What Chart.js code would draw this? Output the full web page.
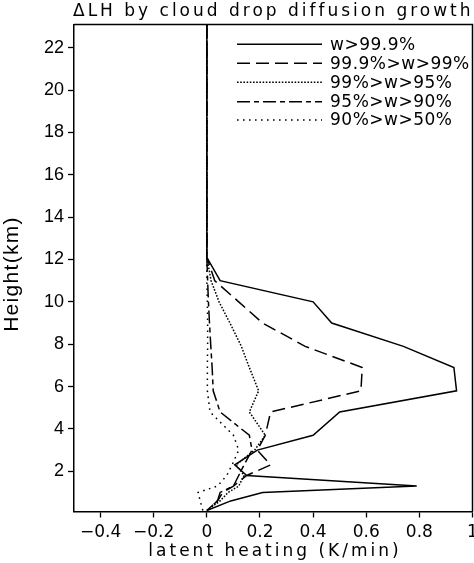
<!DOCTYPE html>
<html><head><meta charset="utf-8">
<script src="https://cdn.jsdelivr.net/npm/chart.js@4"></script>
<style>html,body{margin:0;padding:0;background:#fff;}#wrap{width:474px;height:563px;}</style>
</head><body><div id="wrap"><canvas id="c" width="474" height="563"></canvas></div>
<script>
// ---- data ----
const heights      = [23.1, 12.1, 11.0, 10.0, 9.0, 7.9, 6.9, 5.8, 4.8, 3.7, 3.0, 2.3, 1.8, 1.3, 1.0, 0.6, 0.15];
const wOver999     = [0, 0, 0.05, 0.40, 0.47, 0.74, 0.93, 0.94, 0.50, 0.40, 0.19, 0.105, 0.15, 0.79, 0.21, 0.09, 0.0];
const w999to99     = [0, 0, 0.03, 0.12, 0.21, 0.37, 0.585, 0.58, 0.24, 0.22, 0.19, 0.24, 0.15, 0.10, 0.06, 0.04, 0.0];
const w99to95      = [0, 0, 0.016, 0.046, 0.087, 0.13, 0.16, 0.195, 0.16, 0.22, 0.18, 0.11, 0.14, 0.12, 0.08, 0.05, 0.0];
const w95to90      = [0, 0, 0.003, 0.006, 0.01, 0.015, 0.02, 0.024, 0.05, 0.16, 0.17, 0.14, 0.12, 0.10, 0.05, 0.04, 0.0];
const w90to50      = [0, 0, 0, 0.002, 0.003, 0.003, 0.002, 0.002, 0.012, 0.10, 0.12, 0.095, 0.075, 0.04, -0.033, -0.025, -0.015];
const seriesLabels = ['w>99.9%', '99.9%>w>99%', '99%>w>95%', '95%>w>90%', '90%>w>50%'];
const yTicks       = [2, 4, 6, 8, 10, 12, 14, 16, 18, 20, 22];
const xTicks       = [-0.4, -0.2, 0, 0.2, 0.4, 0.6, 0.8, 1];
const xTickLabels  = ['\u22120.4', '\u22120.2', '0', '0.2', '0.4', '0.6', '0.8', '1'];
const titleText    = '\u0394LH by cloud drop diffusion growth';
const xTitleText   = 'latent heating (K/min)';
const yTitleText   = 'Height(km)';

// ---- styles ----
const dashes = [[], [13, 6], [1.6, 1.6], [13, 4, 5, 4], [1.6, 4.4]];
const seriesValues = [wOver999, w999to99, w99to95, w95to90, w90to50];

const datasets = seriesValues.map((vals, k) => ({
  label: seriesLabels[k],
  data: heights.map((h, i) => ({x: vals[i], y: h})),
  showLine: true,
  borderColor: '#000',
  borderWidth: 1.5,
  borderDash: dashes[k],
  pointRadius: 0,
  tension: 0,
  fill: false
}));

const decor = {
  id: 'decor',
  afterDraw(chart) {
    const ctx = chart.ctx, a = chart.chartArea;
    ctx.save();
    // frame top/right
    ctx.strokeStyle = '#000'; ctx.lineWidth = 1.5; ctx.setLineDash([]);
    ctx.beginPath();
    ctx.moveTo(a.left, a.top); ctx.lineTo(a.right, a.top); ctx.lineTo(a.right, a.bottom);
    ctx.stroke();
    // title
    ctx.fillStyle = '#000';
    ctx.font = '17px "DejaVu Sans"';
    ctx.letterSpacing = '3px';
    ctx.textAlign = 'left'; ctx.textBaseline = 'alphabetic';
    ctx.fillText(titleText, 73, 16);
    // x title
    ctx.textAlign = 'center';
    ctx.fillText(xTitleText, 275, 556);
    // y title
    ctx.save();
    ctx.font = '21px "Liberation Sans"';
    ctx.letterSpacing = '1.3px';
    ctx.translate(12, 274); ctx.rotate(-Math.PI / 2);
    ctx.textBaseline = 'middle';
    ctx.fillText(yTitleText, 0, 0);
    ctx.restore();
    // legend
    ctx.letterSpacing = '0.5px';
    ctx.font = '17px "DejaVu Sans"';
    ctx.textAlign = 'left'; ctx.textBaseline = 'middle';
    const rows = [44.3, 63.3, 82.3, 101.7, 120];
    seriesLabels.forEach((lab, k) => {
      ctx.setLineDash(dashes[k]);
      ctx.lineWidth = 1.5;
      ctx.beginPath(); ctx.moveTo(237, rows[k]); ctx.lineTo(322, rows[k]); ctx.stroke();
      ctx.fillText(lab, 330, rows[k] + 1);
    });
    ctx.restore();
  }
};

new Chart(document.getElementById('c'), {
  type: 'scatter',
  data: {datasets},
  options: {
    responsive: false,
    devicePixelRatio: 1,
    animation: false,
    layout: {padding: {top: 24.5, right: 1.5, left: 0, bottom: 0}},
    plugins: {legend: {display: false}, tooltip: {enabled: false}, title: {display: false}},
    scales: {
      x: {
        type: 'linear', position: 'bottom', min: -0.5, max: 1.0,
        afterBuildTicks: s => { s.ticks = xTicks.map(v => ({value: v})); },
        afterFit: s => { s.height = 51.5; s.paddingLeft = 0; s.paddingRight = 0; },
        ticks: {
          callback: (v, i) => xTickLabels[i],
          font: {family: 'DejaVu Sans', size: 17}, color: '#000',
          maxRotation: 0, autoSkip: false, padding: 5
        },
        grid: {drawOnChartArea: false, drawTicks: true, tickLength: 6, tickColor: '#000', tickWidth: 1.3},
        border: {display: true, color: '#000', width: 1.5}
      },
      y: {
        type: 'linear', position: 'left', min: 0.1, max: 23.1,
        afterBuildTicks: s => { s.ticks = yTicks.map(v => ({value: v})); },
        afterFit: s => { s.width = 74; s.paddingTop = 0; s.paddingBottom = 0; },
        ticks: {
          callback: v => String(v),
          font: {family: 'Liberation Sans', size: 18}, color: '#000',
          autoSkip: false, padding: 4
        },
        grid: {drawOnChartArea: false, drawTicks: true, tickLength: 6, tickColor: '#000', tickWidth: 1.3},
        border: {display: true, color: '#000', width: 1.5}
      }
    }
  },
  plugins: [decor]
});
</script>
</body></html>
